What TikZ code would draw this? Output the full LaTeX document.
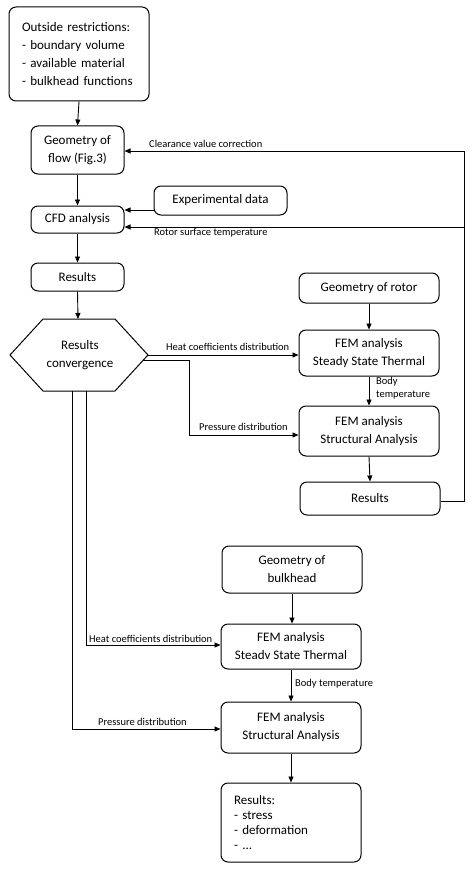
\documentclass[tikz,border=0pt]{standalone}
\usepackage{fontspec}
\setmainfont{Carlito}
\usetikzlibrary{arrows.meta}
\begin{document}
\begin{tikzpicture}[x=1pt,y=-1pt,
  box/.style={draw, line width=1pt, rounded corners=7pt, align=center, inner sep=0pt,
    font=\fontsize{13}{18}\selectfont},
  arr/.style={line width=0.9pt, -{Triangle[length=6pt,width=5pt]}},
  ln/.style={line width=0.9pt},
  lbl/.style={font=\fontsize{10.5}{13}\selectfont, inner sep=0pt}]
\useasboundingbox (0,0) rectangle (474,872);
\fill[white] (0,0) rectangle (474,872);
% boxes
\node[box, minimum width=140pt, minimum height=94pt, text width=114pt, align=left] (outs) at (79,54)
  {Outside restrictions:\\- boundary volume\\- available material\\- bulkhead functions};
\node[box, minimum width=93pt, minimum height=48pt] (geo) at (77.5,150) {Geometry of\\flow (Fig.3)};
\node[box, minimum width=133pt, minimum height=29pt] (exp) at (220.5,200.5) {Experimental data};
\node[box, minimum width=93pt, minimum height=27pt] (cfd) at (77.5,219.5) {CFD analysis};
\node[box, minimum width=93pt, minimum height=28pt] (res1) at (77.5,277) {Results};
\node[box, minimum width=140pt, minimum height=30pt] (georot) at (369,288) {Geometry of rotor};
\node[box, minimum width=140pt, minimum height=46pt] (femT) at (369,353) {FEM analysis\\Steady State Thermal};
\node[box, minimum width=140pt, minimum height=50pt] (femS) at (369,431) {FEM analysis\\Structural Analysis};
\node[box, minimum width=140pt, minimum height=33pt] (res2) at (370,498.5) {Results};
\node[box, minimum width=140pt, minimum height=47pt] (geob) at (292,569.5) {Geometry of\\bulkhead};
\node[box, minimum width=140pt, minimum height=45pt] (femTb) at (291,646.5) {FEM analysis\\Steadv State Thermal};
\node[box, minimum width=140pt, minimum height=51pt] (femSb) at (291,727.5) {FEM analysis\\Structural Analysis};
\node[box, minimum width=140pt, minimum height=79pt, text width=114pt, align=left,
  font=\fontsize{13}{15}\selectfont] (resb) at (291,822.5)
  {Results:\\- stress\\- deformation\\- ...};
% hexagon
\draw[line width=1pt] (10,355) -- (43,319) -- (115,319) -- (148,355) -- (115,391) -- (43,391) -- cycle;
\node[align=center, inner sep=0pt, font=\fontsize{13}{18}\selectfont] (hex) at (80,355) {Results\\convergence};
\coordinate (hexN) at (78,319);
\coordinate (hexE) at (148,355);
\coordinate (hexP) at (143.4,360);
\coordinate (hexB1) at (72,391);
\coordinate (hexB2) at (86,391);
\coordinate (loopT) at (464,151);
\coordinate (loopM) at (464,227);
\coordinate (pbend) at (189,360);
% main chain
\draw[arr] (outs.south) -- (geo.north);
\draw[arr] (geo.south) -- (cfd.north);
\draw[arr] (cfd.south) -- (res1.north);
\draw[arr] (res1.south) -- (hexN);
\draw[arr] (exp.west |- 0,210) -- (cfd.east |- 0,210);
% feedback loop
\draw[ln] (res2.east |- 0,501) -| (loopT);
\draw[arr] (loopT) -- (geo.east |- loopT);
\draw[arr] (loopM) -- (cfd.east |- loopM);
\node[lbl, anchor=west] (lclr) at (149,144) {Clearance value correction};
\node[lbl, anchor=west] (lrot) at (154,233) {Rotor surface temperature};
% rotor branch
\draw[arr] (hexE) -- (femT.west |- hexE);
\node[lbl, anchor=west] (lheat) at (166,347) {Heat coefficients distribution};
\draw[arr] (hexP) -- (pbend) |- (femS.west |- 0,435);
\node[lbl, anchor=west] (lpres) at (199,427) {Pressure distribution};
\draw[arr] (georot.south) -- (femT.north);
\draw[arr] (femT.south) -- (femS.north);
\node[lbl, anchor=north west, align=left] (lbody) at (376,377) {Body\\temperature};
\draw[arr] (femS.south) -- (res2.north);
% bulkhead branch
\draw[arr] (hexB2) |- (femTb.west |- 0,645);
\node[lbl, anchor=west] (lheatb) at (89,639) {Heat coefficients distribution};
\draw[arr] (hexB1) |- (femSb.west |- 0,729);
\node[lbl, anchor=west] (lpresb) at (98,722) {Pressure distribution};
\draw[arr] (geob.south) -- (geob.south |- femTb.north);
\draw[arr] (femTb.south) -- (femTb.south |- femSb.north);
\node[lbl, anchor=west] (lbodyb) at (295,684) {Body temperature};
\draw[arr] (femSb.south) -- (resb.north);
\end{tikzpicture}
\end{document}
